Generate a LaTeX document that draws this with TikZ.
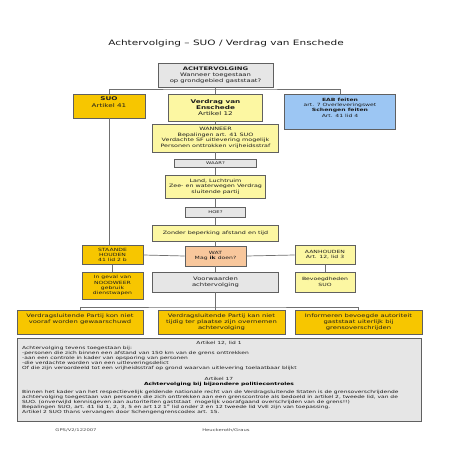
\documentclass[tikz,border=0pt]{standalone}
\usepackage{fontspec}
\setmainfont[FakeStretch=1.42]{DejaVu Sans}
\definecolor{orangef}{HTML}{F7C600}
\definecolor{yellowf}{HTML}{FCF7A2}
\definecolor{bluef}{HTML}{9CC6F3}
\definecolor{grayf}{HTML}{E6E6E6}
\definecolor{peachf}{HTML}{F8C79C}
\definecolor{boxline}{HTML}{606060}
\definecolor{linec}{HTML}{707070}
\definecolor{txt}{HTML}{1C1C1C}
\definecolor{foot}{HTML}{4A4A4A}
\newcommand\fTitle{\fontsize{7.4}{9}\selectfont}
\newcommand\fTop{\fontsize{4.8}{5.8}\selectfont}
\newcommand\fVer{\fontsize{5.1}{6.3}\selectfont}
\newcommand\fMid{\fontsize{4.5}{5.5}\selectfont}
\newcommand\fSm{\fontsize{4.3}{5.3}\selectfont}
\newcommand\fTiny{\fontsize{3.7}{4.5}\selectfont}
\newcommand\fBot{\fontsize{4.8}{6}\selectfont}
\newcommand\fBig{\fontsize{4.2}{5.0}\selectfont}
\newcommand\fFoot{\fontsize{3.7}{4.5}\selectfont}
\begin{document}
\begin{tikzpicture}[x=1pt,y=-1pt,
  box/.style={draw=boxline, line width=0.7pt, inner sep=0pt, align=center, text=txt},
  tb/.style={inner sep=0pt, align=center, text=txt},
  conn/.style={draw=linec, line width=0.7pt}]
\useasboundingbox (0,0) rectangle (452,452);
\fill[white] (0,0) rectangle (452,452);

\node[font=\fTitle, text=black!90] (title) at (226,43) {Achtervolging – SUO / Verdrag van Enschede};

% top
\node[box, fill=grayf, minimum width=115, minimum height=24, font=\fTop] (top) at (215.5,75)
  {\textbf{ACHTERVOLGING}\\Wanneer toegestaan\\op grondgebied gaststaat?};

% row 1
\node[box, fill=orangef, minimum width=72, minimum height=24] (SUO) at (109,106) {};
\node[tb, font=\fVer] (SUOt) at (109,102) {\textbf{SUO}\\Artikel 41};
\node[box, fill=yellowf, minimum width=94, minimum height=27, font=\fVer] (VER) at (215.5,107.5)
  {\textbf{Verdrag van}\\\textbf{Enschede}\\Artikel 12};
\node[box, fill=bluef, minimum width=111, minimum height=35] (EAB) at (340,111.5) {};
\node[tb, font=\fSm] (EABt) at (340,107.5)
  {\textbf{EAB feiten}\\art. 7 Overleveringswet\\\textbf{Schengen feiten}\\Art. 41 lid 4};

% center column
\node[box, fill=yellowf, minimum width=126, minimum height=28, font=\fMid] (WAN) at (215.5,138)
  {WANNEER\\Bepalingen art. 41 SUO\\Verdachte SF uitlevering mogelijk\\Personen onttrokken vrijheidsstraf};
\node[box, fill=grayf, minimum width=82, minimum height=8, font=\fTiny] (WAAR) at (215.5,163.5) {WAAR?};
\node[box, fill=yellowf, minimum width=100, minimum height=23, font=\fMid] (LAND) at (215.5,186.5)
  {Land, Luchtruim\\Zee- en waterwegen Verdrag\\sluitende partij};
\node[box, fill=grayf, minimum width=60, minimum height=10, font=\fTiny] (HOE) at (215.5,212) {HOE?};
\node[box, fill=yellowf, minimum width=126, minimum height=16, font=\fMid] (ZON) at (215.5,233)
  {Zonder beperking afstand en tijd};

% row WAT
\node[box, fill=orangef, minimum width=61, minimum height=19, font=\fSm] (STA) at (112.5,255)
  {STAANDE\\HOUDEN\\41 lid 2 b};
\node[box, fill=peachf, minimum width=61, minimum height=20, font=\fSm] (WAT) at (215.5,256)
  {WAT\\Mag \textbf{ik} doen?};
\node[box, fill=yellowf, minimum width=60, minimum height=19, font=\fSm] (AAN) at (325,255)
  {AANHOUDEN\\Art. 12, lid 3};

\node[box, fill=orangef, minimum width=61, minimum height=27, font=\fSm] (NOOD) at (112.5,285.5)
  {In geval van\\NOODWEER\\gebruik\\dienstwapen};
\node[box, fill=grayf, minimum width=126, minimum height=20, font=\fBot] (VOO) at (215.5,282)
  {Voorwaarden\\achtervolging};
\node[box, fill=yellowf, minimum width=60, minimum height=20, font=\fSm] (BEV) at (325,282)
  {Bevoegdheden\\SUO};

% bottom row
\node[box, fill=orangef, minimum width=126, minimum height=24] (B1) at (80,322) {};
\node[tb, font=\fBot] (B1t) at (80,319.5) {Verdragsluitende Partij kon niet\\vooraf worden gewaarschuwd};
\node[box, fill=orangef, minimum width=127, minimum height=24, font=\fBot] (B2) at (221.5,322)
  {Verdragsluitende Partij kan niet\\tijdig ter plaatse zijn overnemen\\achtervolging};
\node[box, fill=orangef, minimum width=127, minimum height=24, font=\fBot] (B3) at (358.5,322)
  {Informeren bevoegde autoriteit\\gaststaat uiterlijk bij\\grensoverschrijden};

% big text box
\node[box, fill=grayf, minimum width=404, minimum height=83] (ART) at (219,379.5) {};
\node[tb, font=\fBig] (a12) at (219,343) {Artikel 12, lid 1};
\node[tb, font=\fBig, align=left, anchor=north west] (a12b) at (22,346.6)
  {Achtervolging tevens toegestaan bij:\\
   -personen die zich binnen een afstand van 150 km van de grens onttrekken\\
   -aan een controle in kader van opsporing van personen\\
   -die verdachte worden van een uitleveringsdelict\\
   Of die zijn veroordeeld tot een vrijheidsstraf op grond waarvan uitlevering toelaatbaar blijkt};
\node[tb, font=\fBig] (a17) at (219,379) {Artikel 17};
\node[tb, font=\fBig, text=black] (a17h) at (219,384.5) {\textbf{Achtervolging bij bijzondere politiecontroles}};
\node[tb, font=\fBig, align=left, anchor=north west] (a17b) at (22,390.6)
  {Binnen het kader van het respectievelijk geldende nationale recht van de Verdragsluitende Staten is de grensoverschrijdende\\
   achtervolging toegestaan van personen die zich onttrekken aan een grenscontrole als bedoeld in artikel 2, tweede lid, van de\\
   SUO. (onverwijld kennisgeven aan autoriteiten gaststaat~ mogelijk voorafgaand overschrijden van de grens!!)\\
   Bepalingen SUO, art. 41 lid 1, 2, 3, 5 en art 12 1\textsuperscript{e} lid onder 2 en 12 tweede lid VvE zijn van toepassing.\\
   Artikel 2 SUO thans vervangen door Schengengrenscodex art. 15.};

% footer
\node[tb, font=\fFoot, text=foot] (f1) at (76,430) {GPS/V2/122007};
\node[tb, font=\fFoot, text=foot] (f2) at (226,430) {Heuckeroth/Graus};

% connectors
\coordinate (j1) at (215.5,89);
\coordinate (j2) at (215.5,307);
\draw[conn] (top.south) -- (VER.north);
\draw[conn] (SUO.north) |- (j1) -| (EAB.north);
\draw[conn] (SUO.south) -- (SUO.south |- STA.north);
\draw[conn] (VER.south) -- (WAN.north);
\draw[conn] (WAN.south) -- (WAAR.north);
\draw[conn] (WAAR.south) -- (LAND.north);
\draw[conn] (LAND.south) -- (HOE.north);
\draw[conn] (HOE.south) -- (ZON.north);
\draw[conn] (ZON.south) -- (WAT.north);
\draw[conn] (STA.east) -- (WAT.west);
\draw[conn] (WAT.east) -- (AAN.west);
\draw[conn] (WAT.south) -- (VOO.north);
\draw[conn] (STA.south) -- (NOOD.north);
\draw[conn] (AAN.south) -- (BEV.north);
\draw[conn] (VOO.south) -- (VOO.south |- B2.north);
\draw[conn] (B1.north) |- (j2) -| (B3.north);
\end{tikzpicture}
\end{document}
